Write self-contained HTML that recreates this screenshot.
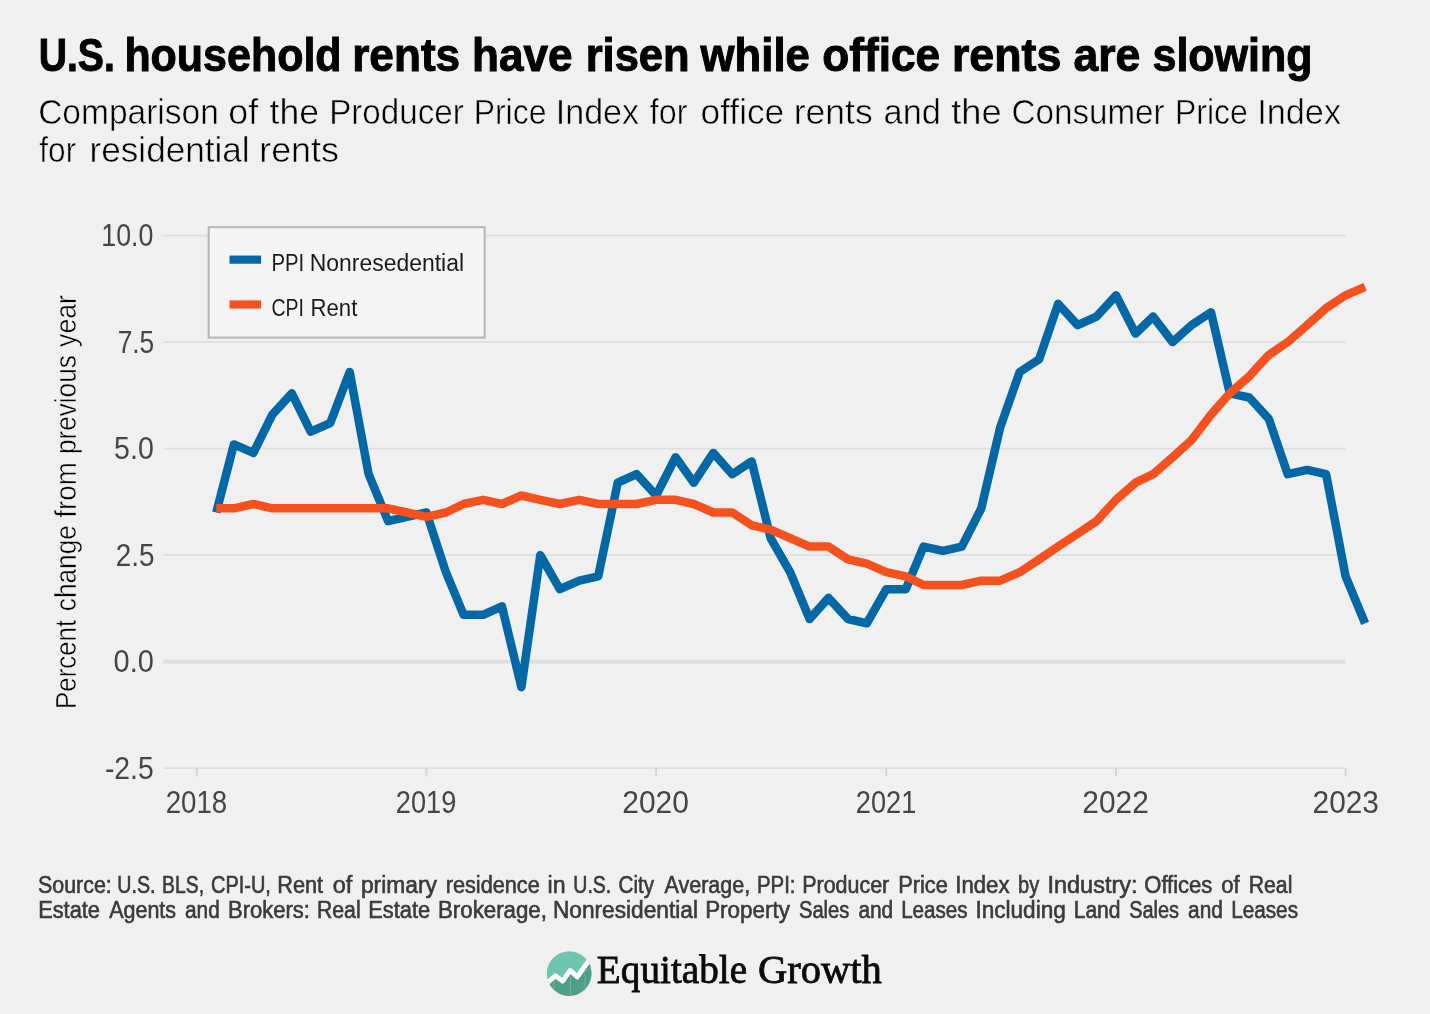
<!DOCTYPE html>
<html lang="en"><head><meta charset="utf-8">
<title>U.S. household rents have risen while office rents are slowing</title>
<style>
html,body{margin:0;padding:0;background:#f0f0f0;}
body{width:1430px;height:1014px;overflow:hidden;}
svg{display:block;will-change:transform;}
text{font-family:"Liberation Sans",sans-serif;}
.serif{font-family:"Liberation Serif",serif;}
</style></head><body>
<svg width="1430" height="1014" viewBox="0 0 1430 1014">
<rect x="0" y="0" width="1430" height="1014" fill="#f0f0f0"/>
<text y="71.2" font-size="47.0" fill="#000" font-weight="bold" stroke="#000" stroke-width="1.0"><tspan x="38.66" textLength="76.16" lengthAdjust="spacingAndGlyphs">U.S.</tspan> <tspan x="124.38" textLength="217.21" lengthAdjust="spacingAndGlyphs">household</tspan> <tspan x="352.19" textLength="107.97" lengthAdjust="spacingAndGlyphs">rents</tspan> <tspan x="472.10" textLength="100.54" lengthAdjust="spacingAndGlyphs">have</tspan> <tspan x="585.63" textLength="104.00" lengthAdjust="spacingAndGlyphs">risen</tspan> <tspan x="700.60" textLength="109.26" lengthAdjust="spacingAndGlyphs">while</tspan> <tspan x="822.19" textLength="117.95" lengthAdjust="spacingAndGlyphs">office</tspan> <tspan x="951.94" textLength="109.38" lengthAdjust="spacingAndGlyphs">rents</tspan> <tspan x="1073.43" textLength="66.91" lengthAdjust="spacingAndGlyphs">are</tspan> <tspan x="1152.49" textLength="160.05" lengthAdjust="spacingAndGlyphs">slowing</tspan></text>
<text y="124.4" font-size="35.3" fill="#000" stroke="#f0f0f0" stroke-width="0.55"><tspan x="38.18" textLength="180.63" lengthAdjust="spacingAndGlyphs">Comparison</tspan> <tspan x="228.30" textLength="29.81" lengthAdjust="spacingAndGlyphs">of</tspan> <tspan x="269.56" textLength="49.42" lengthAdjust="spacingAndGlyphs">the</tspan> <tspan x="329.18" textLength="134.54" lengthAdjust="spacingAndGlyphs">Producer</tspan> <tspan x="473.68" textLength="72.71" lengthAdjust="spacingAndGlyphs">Price</tspan> <tspan x="555.74" textLength="83.29" lengthAdjust="spacingAndGlyphs">Index</tspan> <tspan x="649.82" textLength="37.58" lengthAdjust="spacingAndGlyphs">for</tspan> <tspan x="700.54" textLength="83.72" lengthAdjust="spacingAndGlyphs">office</tspan> <tspan x="793.74" textLength="78.98" lengthAdjust="spacingAndGlyphs">rents</tspan> <tspan x="883.62" textLength="57.37" lengthAdjust="spacingAndGlyphs">and</tspan> <tspan x="951.25" textLength="50.41" lengthAdjust="spacingAndGlyphs">the</tspan> <tspan x="1011.60" textLength="152.89" lengthAdjust="spacingAndGlyphs">Consumer</tspan> <tspan x="1174.98" textLength="72.71" lengthAdjust="spacingAndGlyphs">Price</tspan> <tspan x="1257.32" textLength="83.71" lengthAdjust="spacingAndGlyphs">Index</tspan></text>
<text y="162.1" font-size="35.3" fill="#000" stroke="#f0f0f0" stroke-width="0.55"><tspan x="39.33" textLength="36.82" lengthAdjust="spacingAndGlyphs">for</tspan> <tspan x="89.59" textLength="160.10" lengthAdjust="spacingAndGlyphs">residential</tspan> <tspan x="259.22" textLength="79.70" lengthAdjust="spacingAndGlyphs">rents</tspan></text>
<line x1="163.2" x2="1345.6" y1="235.6" y2="235.6" stroke="#dedede" stroke-width="1.9"/>
<line x1="163.2" x2="1345.6" y1="342.1" y2="342.1" stroke="#dedede" stroke-width="1.9"/>
<line x1="163.2" x2="1345.6" y1="448.6" y2="448.6" stroke="#dedede" stroke-width="1.9"/>
<line x1="163.2" x2="1345.6" y1="555.1" y2="555.1" stroke="#dedede" stroke-width="1.9"/>
<line x1="163.2" x2="1345.6" y1="768.1" y2="768.1" stroke="#dedede" stroke-width="1.9"/>
<line x1="163.2" x2="1345.6" y1="661.6" y2="661.6" stroke="#dedede" stroke-width="3.8"/>
<line x1="196.8" x2="196.8" y1="768.1" y2="776.5" stroke="#d2d2d2" stroke-width="1.8"/>
<line x1="426.4" x2="426.4" y1="768.1" y2="776.5" stroke="#d2d2d2" stroke-width="1.8"/>
<line x1="656.1" x2="656.1" y1="768.1" y2="776.5" stroke="#d2d2d2" stroke-width="1.8"/>
<line x1="886.3" x2="886.3" y1="768.1" y2="776.5" stroke="#d2d2d2" stroke-width="1.8"/>
<line x1="1116.0" x2="1116.0" y1="768.1" y2="776.5" stroke="#d2d2d2" stroke-width="1.8"/>
<line x1="1345.6" x2="1345.6" y1="768.1" y2="776.5" stroke="#d2d2d2" stroke-width="1.8"/>
<text x="101.27" y="246.1" font-size="31.8" fill="#454545" textLength="52.23" lengthAdjust="spacingAndGlyphs">10.0</text>
<text x="117.64" y="352.6" font-size="31.8" fill="#454545" textLength="36.64" lengthAdjust="spacingAndGlyphs">7.5</text>
<text x="114.09" y="459.1" font-size="31.8" fill="#454545" textLength="39.69" lengthAdjust="spacingAndGlyphs">5.0</text>
<text x="115.69" y="565.6" font-size="31.8" fill="#454545" textLength="38.77" lengthAdjust="spacingAndGlyphs">2.5</text>
<text x="113.52" y="672.1" font-size="31.8" fill="#454545" textLength="40.27" lengthAdjust="spacingAndGlyphs">0.0</text>
<text x="104.92" y="778.6" font-size="31.8" fill="#454545" textLength="48.85" lengthAdjust="spacingAndGlyphs">-2.5</text>
<text y="812.7" font-size="31.8" fill="#454545"><tspan x="165.70" textLength="61.58" lengthAdjust="spacingAndGlyphs">2018</tspan> <tspan x="395.82" textLength="60.44" lengthAdjust="spacingAndGlyphs">2019</tspan> <tspan x="622.29" textLength="66.66" lengthAdjust="spacingAndGlyphs">2020</tspan> <tspan x="855.82" textLength="60.45" lengthAdjust="spacingAndGlyphs">2021</tspan> <tspan x="1082.29" textLength="66.49" lengthAdjust="spacingAndGlyphs">2022</tspan> <tspan x="1312.59" textLength="66.37" lengthAdjust="spacingAndGlyphs">2023</tspan></text>
<text transform="translate(76.1,706.5) rotate(-90)" y="0" font-size="28.9" fill="#000" stroke="#f0f0f0" stroke-width="0.5"><tspan x="-2.46" textLength="89.11" lengthAdjust="spacingAndGlyphs">Percent</tspan> <tspan x="95.29" textLength="86.14" lengthAdjust="spacingAndGlyphs">change</tspan> <tspan x="188.76" textLength="55.62" lengthAdjust="spacingAndGlyphs">from</tspan> <tspan x="252.50" textLength="98.73" lengthAdjust="spacingAndGlyphs">previous</tspan> <tspan x="359.55" textLength="51.97" lengthAdjust="spacingAndGlyphs">year</tspan></text>
<polyline points="216.3,512.5 233.9,444.4 253.4,452.9 272.3,414.6 291.8,393.3 310.7,431.6 330.2,423.1 349.7,372.0 368.6,474.2 388.1,521.1 406.9,516.8 426.4,512.5 445.9,572.2 463.6,614.8 483.1,614.8 501.9,606.3 521.4,687.2 540.3,555.1 559.8,589.2 579.3,580.7 598.2,576.4 617.7,482.7 636.6,474.2 656.1,495.5 675.6,457.2 693.8,482.7 713.3,452.9 732.2,474.2 751.7,461.4 770.6,538.1 790.1,572.2 809.6,619.0 828.5,597.8 848.0,619.0 866.8,623.3 886.3,589.2 905.8,589.2 923.5,546.6 943.0,550.9 961.8,546.6 981.3,508.3 1000.2,427.3 1019.7,372.0 1039.2,359.2 1058.1,303.8 1077.6,325.1 1096.5,316.6 1116.0,295.3 1135.5,333.6 1153.1,316.6 1172.6,342.1 1191.5,325.1 1211.0,312.3 1229.8,393.3 1249.3,397.5 1268.8,418.8 1287.7,474.2 1307.2,469.9 1326.1,474.2 1345.6,576.4 1365.1,623.3" fill="none" stroke="#0468a6" stroke-width="8.5" stroke-linejoin="round" stroke-linecap="butt"/>
<polyline points="216.3,508.3 233.9,508.3 253.4,504.0 272.3,508.3 291.8,508.3 310.7,508.3 330.2,508.3 349.7,508.3 368.6,508.3 388.1,508.3 406.9,512.5 426.4,516.8 445.9,512.5 463.6,504.0 483.1,499.8 501.9,504.0 521.4,495.5 540.3,499.8 559.8,504.0 579.3,499.8 598.2,504.0 617.7,504.0 636.6,504.0 656.1,499.8 675.6,499.8 693.8,504.0 713.3,512.5 732.2,512.5 751.7,525.3 770.6,529.6 790.1,538.1 809.6,546.6 828.5,546.6 848.0,559.4 866.8,563.7 886.3,572.2 905.8,576.4 923.5,585.0 943.0,585.0 961.8,585.0 981.3,580.7 1000.2,580.7 1019.7,572.2 1039.2,559.4 1058.1,546.6 1077.6,533.8 1096.5,521.1 1116.0,499.8 1135.5,482.7 1153.1,474.2 1172.6,457.2 1191.5,440.1 1211.0,414.6 1229.8,393.3 1249.3,376.2 1268.8,354.9 1287.7,342.1 1307.2,325.1 1326.1,308.1 1345.6,295.3 1365.1,286.8" fill="none" stroke="#f4511e" stroke-width="8.5" stroke-linejoin="round" stroke-linecap="butt"/>
<rect x="208.7" y="227.2" width="276" height="110.4" fill="#f5f5f5" stroke="#b7b7b7" stroke-width="2.1"/>
<rect x="229.5" y="255.55" width="31.6" height="8.2" fill="#0468a6"/>
<rect x="229.5" y="300.35" width="31.6" height="8.2" fill="#f4511e"/>
<text y="271.4" font-size="23.0" fill="#1a1a1a"><tspan x="271.42" textLength="32.76" lengthAdjust="spacingAndGlyphs">PPI</tspan> <tspan x="309.82" textLength="154.24" lengthAdjust="spacingAndGlyphs">Nonresedential</tspan></text>
<text y="316.2" font-size="23.0" fill="#1a1a1a"><tspan x="271.50" textLength="32.45" lengthAdjust="spacingAndGlyphs">CPI</tspan> <tspan x="310.47" textLength="46.86" lengthAdjust="spacingAndGlyphs">Rent</tspan></text>
<text y="892.5" font-size="23.5" fill="#3a3a3a" stroke="#3a3a3a" stroke-width="0.6"><tspan x="37.94" textLength="73.81" lengthAdjust="spacingAndGlyphs">Source:</tspan> <tspan x="117.32" textLength="38.24" lengthAdjust="spacingAndGlyphs">U.S.</tspan> <tspan x="162.07" textLength="41.96" lengthAdjust="spacingAndGlyphs">BLS,</tspan> <tspan x="211.04" textLength="59.82" lengthAdjust="spacingAndGlyphs">CPI-U,</tspan> <tspan x="277.32" textLength="45.82" lengthAdjust="spacingAndGlyphs">Rent</tspan> <tspan x="332.71" textLength="19.57" lengthAdjust="spacingAndGlyphs">of</tspan> <tspan x="360.91" textLength="75.97" lengthAdjust="spacingAndGlyphs">primary</tspan> <tspan x="445.70" textLength="94.11" lengthAdjust="spacingAndGlyphs">residence</tspan> <tspan x="547.58" textLength="17.98" lengthAdjust="spacingAndGlyphs">in</tspan> <tspan x="573.32" textLength="37.95" lengthAdjust="spacingAndGlyphs">U.S.</tspan> <tspan x="618.61" textLength="35.46" lengthAdjust="spacingAndGlyphs">City</tspan> <tspan x="664.51" textLength="85.72" lengthAdjust="spacingAndGlyphs">Average,</tspan> <tspan x="756.94" textLength="38.59" lengthAdjust="spacingAndGlyphs">PPI:</tspan> <tspan x="802.24" textLength="87.03" lengthAdjust="spacingAndGlyphs">Producer</tspan> <tspan x="898.31" textLength="49.51" lengthAdjust="spacingAndGlyphs">Price</tspan> <tspan x="955.23" textLength="54.27" lengthAdjust="spacingAndGlyphs">Index</tspan> <tspan x="1018.05" textLength="21.10" lengthAdjust="spacingAndGlyphs">by</tspan> <tspan x="1047.53" textLength="89.95" lengthAdjust="spacingAndGlyphs">Industry:</tspan> <tspan x="1144.32" textLength="67.99" lengthAdjust="spacingAndGlyphs">Offices</tspan> <tspan x="1221.28" textLength="18.45" lengthAdjust="spacingAndGlyphs">of</tspan> <tspan x="1248.72" textLength="43.63" lengthAdjust="spacingAndGlyphs">Real</tspan></text>
<text y="917.9" font-size="23.5" fill="#3a3a3a" stroke="#3a3a3a" stroke-width="0.6"><tspan x="38.21" textLength="61.72" lengthAdjust="spacingAndGlyphs">Estate</tspan> <tspan x="109.21" textLength="66.83" lengthAdjust="spacingAndGlyphs">Agents</tspan> <tspan x="184.98" textLength="34.80" lengthAdjust="spacingAndGlyphs">and</tspan> <tspan x="228.01" textLength="81.83" lengthAdjust="spacingAndGlyphs">Brokers:</tspan> <tspan x="316.91" textLength="43.72" lengthAdjust="spacingAndGlyphs">Real</tspan> <tspan x="368.20" textLength="61.92" lengthAdjust="spacingAndGlyphs">Estate</tspan> <tspan x="437.98" textLength="108.97" lengthAdjust="spacingAndGlyphs">Brokerage,</tspan> <tspan x="552.93" textLength="145.04" lengthAdjust="spacingAndGlyphs">Nonresidential</tspan> <tspan x="705.15" textLength="84.74" lengthAdjust="spacingAndGlyphs">Property</tspan> <tspan x="798.99" textLength="50.39" lengthAdjust="spacingAndGlyphs">Sales</tspan> <tspan x="858.38" textLength="34.80" lengthAdjust="spacingAndGlyphs">and</tspan> <tspan x="901.16" textLength="66.49" lengthAdjust="spacingAndGlyphs">Leases</tspan> <tspan x="975.40" textLength="90.41" lengthAdjust="spacingAndGlyphs">Including</tspan> <tspan x="1073.72" textLength="46.76" lengthAdjust="spacingAndGlyphs">Land</tspan> <tspan x="1129.19" textLength="49.83" lengthAdjust="spacingAndGlyphs">Sales</tspan> <tspan x="1188.08" textLength="34.80" lengthAdjust="spacingAndGlyphs">and</tspan> <tspan x="1231.16" textLength="66.86" lengthAdjust="spacingAndGlyphs">Leases</tspan></text>
<g id="logo">
<clipPath id="lc"><circle cx="569.15" cy="973.55" r="22.35"/></clipPath>
<g clip-path="url(#lc)">
<rect x="540" y="945" width="60" height="60" fill="#6ec6b0"/>
<polygon points="544,985.8 555.4,975.8 562.6,981.1 570.1,970.3 577.1,977 594,953.4 600,953 600,1000 540,1000 540,985.8" fill="#4f9f88"/>
<g stroke="#74b3a1" stroke-width="1">
<line x1="554.1" x2="554.1" y1="976" y2="1000"/><line x1="570.4" x2="570.4" y1="971" y2="1000"/><line x1="585" x2="585" y1="966" y2="1000" stroke-width="1.4" stroke="#65ab98"/>
</g>
<polyline points="544,985.8 555.4,975.8 562.6,981.1 570.1,970.3 577.1,977 594,953.4" fill="none" stroke="#fff" stroke-width="4.8" stroke-linejoin="round"/>
</g></g>
<text y="983.2" font-size="40.0" fill="#0a0a0a" class="serif" stroke="#0a0a0a" stroke-width="0.8"><tspan x="596.85" textLength="150.21" lengthAdjust="spacingAndGlyphs">Equitable</tspan> <tspan x="757.90" textLength="123.80" lengthAdjust="spacingAndGlyphs">Growth</tspan></text>
</svg>
</body></html>
